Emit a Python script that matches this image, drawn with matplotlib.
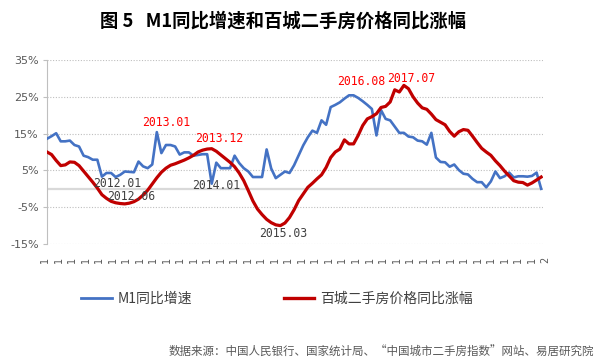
import matplotlib
matplotlib.use("Agg")
import matplotlib.pyplot as plt
import numpy as np
from matplotlib.lines import Line2D
import matplotlib.transforms as mtransforms

plt.rcParams['font.family'] = ['Noto Sans CJK SC', 'DejaVu Sans']

# Monthly data, 2011.01 - 2020.01
m1_yoy = [13.6, 14.3, 15.1, 12.9, 12.9, 13.1, 11.9, 11.5, 9.0, 8.6, 7.9, 7.9,
          3.3, 4.3, 4.3, 3.2, 3.8, 4.7, 4.6, 4.5, 7.4, 6.1, 5.6, 6.6,
          15.4, 9.7, 11.9, 11.9, 11.5, 9.3, 9.9, 9.9, 9.0, 9.2, 9.4, 9.4,
          1.4, 7.1, 5.6, 5.6, 5.6, 9.0, 7.0, 5.6, 4.7, 3.2, 3.2, 3.2,
          10.7, 5.5, 2.9, 3.8, 4.7, 4.3, 6.4, 9.1, 11.8, 14.0, 15.8, 15.2,
          18.6, 17.4, 22.2, 22.8, 23.5, 24.5, 25.4, 25.4, 24.7, 23.8, 22.8, 21.7,
          14.5, 21.4, 19.0, 18.6, 16.9, 15.2, 15.2, 14.2, 14.0, 13.1, 12.9, 12.0,
          15.2, 8.5, 7.3, 7.2, 6.0, 6.6, 5.1, 4.1, 3.9, 2.7, 1.8, 1.8,
          0.4, 2.0, 4.7, 2.9, 3.4, 4.4, 3.1, 3.4, 3.4, 3.3, 3.5, 4.4,
          0.0]
house_yoy = [10.0, 9.3, 7.7, 6.3, 6.5, 7.3, 7.2, 6.3, 4.8, 3.3, 1.8, 0.2,
             -1.6, -2.6, -3.4, -3.8, -4.0, -4.1, -3.9, -3.5, -2.8, -1.7, -0.4, 1.3,
             3.0, 4.5, 5.6, 6.4, 6.8, 7.3, 7.8, 8.4, 9.1, 10.0, 10.5, 10.8,
             10.9, 10.2, 9.2, 8.2, 7.2, 6.0, 4.3, 2.2, -0.5, -3.3, -5.5, -7.0,
             -8.3, -9.2, -9.8, -10.0, -9.3, -7.8, -5.7, -3.2, -1.4, 0.4, 1.5, 2.7,
             3.8, 5.8, 8.5, 10.0, 10.8, 13.3, 12.2, 12.2, 14.5, 17.2, 19.0, 19.6,
             20.4, 22.1, 22.4, 23.6, 26.9, 26.3, 28.1, 27.2, 25.0, 23.3, 22.0, 21.6,
             20.3, 18.8, 18.1, 17.4, 15.6, 14.3, 15.5, 16.1, 15.9, 14.3, 12.6, 11.0,
             10.0, 9.1, 7.6, 6.3, 4.8, 3.5, 2.2, 1.8, 1.7, 1.0, 1.6, 2.4,
             3.2]

series_names = ['M1同比增速', '百城二手房价格同比涨幅']
y_ticks = [-15, -5, 5, 15, 25, 35]
x_tick_labels = ['1'] * 37 + ['2']

ann_labels = ['2012.01', '2012.06', '2013.01', '2013.12', '2014.01', '2015.03', '2016.08', '2017.07']
# label text positions (month index, value)
ann_x = [15.3, 18.4, 26.0, 37.6, 36.9, 51.6, 68.6, 79.6]
ann_y = [1.4, -2.1, 18.0, 13.7, 0.9, -12.2, 29.2, 30.0]
ann_colors = ['#404040', '#404040', '#FF0000', '#FF0000', '#404040', '#404040', '#FF0000', '#FF0000']

blue = '#4472C4'
red = '#C00000'
gray = '#595959'

fig = plt.figure(figsize=(6.0, 3.62), dpi=100)
ax = fig.add_axes([47/600, 1-244/362, 496/600, 184/362])

x = np.arange(len(m1_yoy))
ax.plot(x, m1_yoy, color=blue, lw=1.9, solid_joinstyle='round', zorder=3)
ax.plot(x, house_yoy, color=red, lw=2.3, solid_joinstyle='round', zorder=4)

ax.set_xlim(0, len(m1_yoy) - 1 + 0.4)
ax.set_ylim(-15, 35)
ax.set_yticks(y_ticks)
ax.set_yticklabels([f'{v}%' for v in y_ticks], color=gray, fontsize=8, family='DejaVu Sans')
ax.tick_params(axis='y', length=3, color='#bfbfbf', width=0.8, pad=3)
ax.set_xticks([])
for v in y_ticks:
    ax.axhline(v, color='#bfbfbf', lw=0.8, ls=(0, (1, 1.5)), zorder=1)
ax.axhline(0, color='#d9d9d9', lw=1.6, zorder=2)
for s in ['top', 'right', 'bottom']:
    ax.spines[s].set_visible(False)
ax.spines['left'].set_color('#bfbfbf')
ax.spines['left'].set_linewidth(0.8)

trans = mtransforms.blended_transform_factory(ax.transData, ax.transAxes)
xpos = np.linspace(-0.45, 108.9, len(x_tick_labels))
for xp, lab in zip(xpos, x_tick_labels):
    ax.text(xp, -0.088, lab, transform=trans, rotation=90, ha='center', va='center',
            fontsize=7, color=gray, clip_on=False, family='DejaVu Sans')

for lab, tx, ty, c in zip(ann_labels, ann_x, ann_y, ann_colors):
    ax.text(tx, ty, lab, ha='center', va='center', fontsize=8.3, color=c,
            family='DejaVu Sans Mono', zorder=6)

fig.text(283/600, 1-21/362, '图 5   M1同比增速和百城二手房价格同比涨幅', ha='center', va='center',
         fontsize=13.2, fontweight='bold', color='black')

handles = [Line2D([], [], color=blue, lw=2.0), Line2D([], [], color=red, lw=2.4)]
fig.legend(handles, series_names, loc='center', bbox_to_anchor=(277/600, 1-299/362), ncol=2,
           frameon=False, fontsize=10, handlelength=2.2, handletextpad=0.4, columnspacing=6.6,
           labelcolor='#404040')

fig.text(594/600, 1-352/362, '数据来源：中国人民银行、国家统计局、“中国城市二手房指数”网站、易居研究院',
         ha='right', va='center', fontsize=8.3, color=gray)

fig.savefig('out.png', dpi=100)
